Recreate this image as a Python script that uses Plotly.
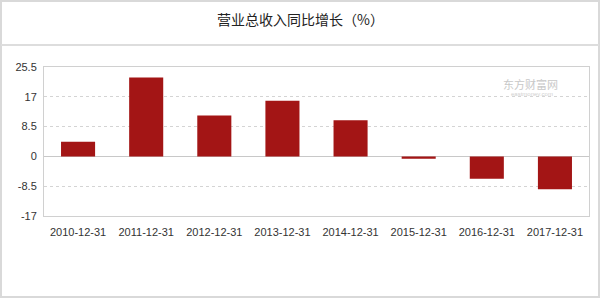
import plotly.graph_objects as go

categories = ["2010-12-31", "2011-12-31", "2012-12-31", "2013-12-31",
              "2014-12-31", "2015-12-31", "2016-12-31", "2017-12-31"]
growth = [4.2, 22.5, 11.7, 15.9, 10.3, -0.7, -6.4, -9.4]
tick_vals = [-17, -8.5, 0, 8.5, 17, 25.5]
tick_text = ["-17", "-8.5", "0", "8.5", "17", "25.5"]
title_text = "营业总收入同比增长（%）"

W, H = 600, 298
L, R, T, B = 44, 11, 67, 82
pw, ph = W - L - R, H - T - B

def px_x(x):
    return (x - L) / pw

def px_y(y):
    return (H - B - y) / ph

fig = go.Figure()
fig.add_trace(go.Bar(x=categories, y=growth, marker_color="#A31515",
                     marker_line_width=0, width=0.5))

font = "Arial, Liberation Sans, Noto Sans CJK SC, sans-serif"
fig.update_layout(
    width=W, height=H,
    margin=dict(l=L, r=R, t=T, b=B),
    paper_bgcolor="white", plot_bgcolor="white",
    showlegend=False,
    bargap=0.5,
    font=dict(family=font, size=11, color="#333"),
    xaxis=dict(type="category", showgrid=False, ticks="", showline=True,
               linecolor="#d0d0d0", linewidth=1, mirror=True,
               tickfont=dict(size=11, color="#333"), ticklabelstandoff=6),
    yaxis=dict(range=[-17, 25.5], tickvals=tick_vals, ticktext=tick_text,
               showgrid=True, gridcolor="#d4d4d4", griddash="3px,3px", gridwidth=1,
               zeroline=True, zerolinecolor="#c8c8c8", zerolinewidth=1,
               showline=True, linecolor="#d0d0d0", linewidth=1, mirror=True,
               ticks="", tickfont=dict(size=11, color="#333"), ticklabelstandoff=4),
    shapes=[
        dict(type="rect", xref="paper", yref="paper",
             x0=px_x(1), x1=px_x(599), y0=px_y(297), y1=px_y(1),
             line=dict(color="#d9d9d9", width=2), layer="below"),
        dict(type="line", xref="paper", yref="paper",
             x0=px_x(1), x1=px_x(599), y0=px_y(45), y1=px_y(45),
             line=dict(color="#dddddd", width=2)),
    ],
    annotations=[
        dict(text=title_text, xref="paper", yref="paper", x=px_x(300), y=px_y(19),
             xanchor="center", yanchor="middle", showarrow=False,
             font=dict(family="Noto Sans CJK SC, sans-serif", size=14, color="#222")),
        dict(text="东方财富网", xref="paper", yref="paper", x=px_x(530), y=px_y(84),
             xanchor="center", yanchor="middle", showarrow=False,
             font=dict(family="Noto Sans CJK SC, sans-serif", size=11, color="#c8c8c8")),
        dict(text="eastmoney.com", xref="paper", yref="paper", x=px_x(532), y=px_y(94),
             xanchor="center", yanchor="middle", showarrow=False,
             font=dict(size=6, color="#d0d0d0")),
    ],
)

fig.write_html("out.html")
